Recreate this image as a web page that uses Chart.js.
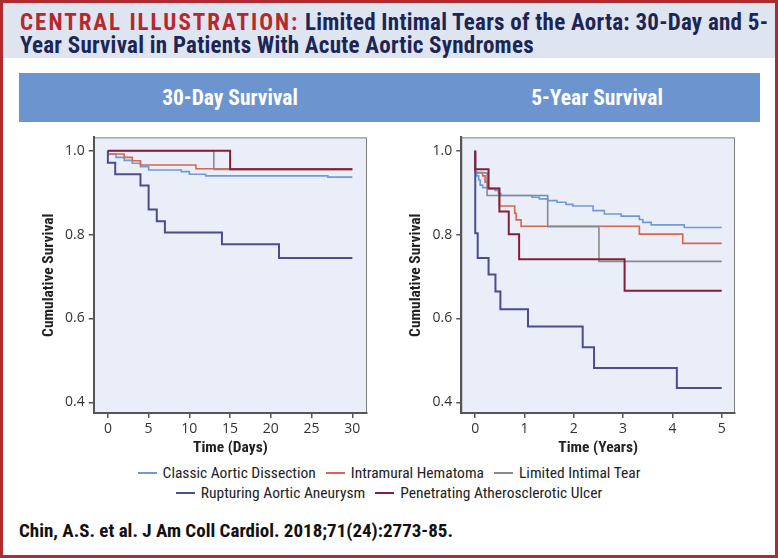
<!DOCTYPE html>
<html>
<head>
<meta charset="utf-8">
<script src="https://cdn.jsdelivr.net/npm/chart.js@4.4.1/dist/chart.umd.min.js"></script>
<style>
  body { margin: 0; background: #fff; }
  #frame { position: relative; width: 778px; height: 558px; box-sizing: border-box; border: 3px solid #b02a30; overflow: hidden;
           font-family: 'Liberation Sans Narrow', 'Roboto Condensed', 'DejaVu Sans Condensed', sans-serif; }
  #head { position: absolute; left: 0; top: 0; width: 772px; height: 55px; background: #dfe4f1; }
  #head div { position: absolute; left: 17px; font-size: 23px; font-weight: bold; color: #1b2654; white-space: nowrap; letter-spacing: 0.25px; }
  #head .red { color: #b5282e; letter-spacing: 2px; }
  #banner { position: absolute; left: 16px; top: 70px; width: 741px; height: 49px; background: #6c94cf; }
  #banner div { position: absolute; top: 12px; color: #fff; font-weight: bold; font-size: 21.5px; width: 300px; text-align: center; }
  canvas { position: absolute; }
  #legend { position: absolute; left: 0; width: 772px; top: 460px; font-size: 15.5px; color: #222; }
  #legend .row { display: flex; justify-content: center; height: 20px; line-height: 20px; }
  #legend .item { display: flex; align-items: center; margin: 0 5px; }
  #legend .sw { width: 19px; height: 2px; margin-right: 6px; }
  #foot { position: absolute; left: 16px; top: 516px; font-size: 19px; font-weight: bold; color: #111; }
</style>
</head>
<body>
<div id="frame">
  <div id="head">
    <div style="top:6px"><span class="red">CENTRAL ILLUSTRATION:</span> Limited Intimal Tears of the Aorta: 30-Day and 5-</div>
    <div style="top:29px">Year Survival in Patients With Acute Aortic Syndromes</div>
  </div>
  <div id="banner">
    <div style="left:61px">30-Day Survival</div>
    <div style="left:428px">5-Year Survival</div>
  </div>
  <canvas id="c30" width="360" height="335" style="left:17px;top:122px"></canvas>
  <canvas id="c5y" width="360" height="335" style="left:385px;top:122px"></canvas>
  <div id="legend"></div>
  <div id="foot">Chin, A.S. et al. J Am Coll Cardiol. 2018;71(24):2773-85.</div>
</div>
<script>
// series names and colours
var categories = ['Classic Aortic Dissection', 'Intramural Hematoma', 'Limited Intimal Tear',
                  'Rupturing Aortic Aneurysm', 'Penetrating Atherosclerotic Ulcer'];
var colors = ['#6f9ad6', '#d8664e', '#8a8a8a', '#4b4d8e', '#8a1d36'];

// Kaplan-Meier steps, [time, survival after the event]
// 30 days
var cad30 = [[0, 1], [0, 0.992], [1, 0.984], [2, 0.977], [3, 0.970], [4, 0.962], [5, 0.954], [9, 0.950], [10, 0.944], [12, 0.940], [27, 0.937], [30, 0.937]];
var imh30 = [[0, 1], [0, 0.992], [2, 0.984], [3, 0.976], [4, 0.966], [10.8, 0.957], [30, 0.957]];
var lit30 = [[0, 1], [13, 0.955], [30, 0.955]];
var raa30 = [[0, 1], [0, 0.971], [0.9, 0.944], [4, 0.917], [5, 0.860], [6, 0.832], [7, 0.805], [14, 0.777], [21, 0.744], [30, 0.744]];
var pau30 = [[0, 1], [15, 0.956], [30, 0.956]];

// 5 years
var cad5 = [[0, 1], [0, 0.950], [0.03, 0.940], [0.07, 0.930], [0.1, 0.918], [0.15, 0.912], [0.25, 0.910], [0.4, 0.905], [0.47, 0.898], [0.52, 0.893],
            [1.15, 0.889], [1.3, 0.885], [1.47, 0.881], [1.66, 0.877], [1.84, 0.872], [1.98, 0.868], [2.39, 0.857], [2.62, 0.849],
            [2.96, 0.844], [3.33, 0.836], [3.4, 0.829], [3.57, 0.823], [4.24, 0.817], [5, 0.817]];
var imh5 = [[0, 1], [0, 0.948], [0.15, 0.940], [0.2, 0.925], [0.25, 0.910], [0.49, 0.868], [0.80, 0.851], [0.83, 0.835], [0.93, 0.820], [3.33, 0.801], [4.21, 0.779], [5, 0.779]];
var lit5 = [[0, 1], [0, 0.947], [0.24, 0.893], [1.47, 0.819], [2.51, 0.736], [5, 0.736]];
var raa5 = [[0, 1], [0, 0.803], [0.05, 0.744], [0.27, 0.705], [0.41, 0.664], [0.51, 0.622], [1.07, 0.581], [2.18, 0.531], [2.41, 0.482], [4.09, 0.434], [5, 0.434]];
var pau5 = [[0, 1], [0, 0.956], [0.27, 0.910], [0.49, 0.855], [0.68, 0.801], [0.89, 0.741], [3.03, 0.666], [5, 0.666]];

// tick labels
var survTicks = [0.4, 0.6, 0.8, 1.0];
var dayTicks = [0, 5, 10, 15, 20, 25, 30];
var yearTicks = [0, 1, 2, 3, 4, 5];

var plotBg = {
    id: 'plotBg',
    beforeDraw: function (chart) {
        var a = chart.chartArea, c = chart.ctx;
        c.save();
        c.fillStyle = '#e9eef8';
        c.fillRect(a.left, a.top, a.right - a.left, a.bottom - a.top);
        c.strokeStyle = '#7d7d7d';
        c.lineWidth = 1;
        c.strokeRect(a.left + 0.5, a.top + 0.5, a.right - a.left - 1, a.bottom - a.top - 1);
        c.restore();
    }
};

function fixTicks(list) {
    return function (scale) {
        scale.ticks = list.map(function (v) { return { value: v }; });
    };
}

var titleFont = { family: "'Liberation Sans Narrow', 'Roboto Condensed', 'DejaVu Sans Condensed'", size: 15.5, weight: 'bold' };
var tickFont = { family: 'Open Sans', size: 14 };

function makeChart(id, series, xmin, xmax, xticks, xtitle, yAxisW, yTitlePad) {
    var sets = [];
    // dark series first so they sit on top
    var order = [4, 3, 2, 1, 0];
    for (var k in order) {
        var i = order[k];
        sets.push({
            label: categories[i],
            data: series[i].map(function (p) { return { x: p[0], y: p[1] }; }),
            borderColor: colors[i],
            borderWidth: (i == 3 || i == 4) ? 2 : 1.6,
            stepped: true,
            pointRadius: 0,
            fill: false
        });
    }
    return new Chart(document.getElementById(id), {
        type: 'line',
        data: { datasets: sets },
        options: {
            responsive: false,
            animation: false,
            devicePixelRatio: 1,
            layout: { padding: { left: 0, top: 12, right: 13, bottom: 0 } },
            plugins: { legend: { display: false }, tooltip: { enabled: false } },
            scales: {
                x: {
                    type: 'linear', min: xmin, max: xmax,
                    afterBuildTicks: fixTicks(xticks),
                    afterFit: function (s) { s.height = 47; },
                    grid: { drawOnChartArea: false, tickLength: 5, color: '#555', lineWidth: 1.5 },
                    border: { display: true, color: '#555', width: 2 },
                    ticks: { color: '#333', padding: 3, font: tickFont },
                    title: { display: true, text: xtitle, color: '#222', padding: { top: 0, bottom: 3 }, font: titleFont }
                },
                y: {
                    min: 0.3745, max: 1.0317,
                    afterBuildTicks: fixTicks(survTicks),
                    afterFit: function (s) { s.width = yAxisW; },
                    grid: { drawOnChartArea: false, tickLength: 5, color: '#555', lineWidth: 1.5 },
                    border: { display: true, color: '#555', width: 2 },
                    ticks: { color: '#333', padding: 4, font: tickFont,
                             callback: function (v) { return v.toFixed(1); } },
                    title: { display: true, text: 'Cumulative Survival', color: '#222', padding: { top: yTitlePad, bottom: 0 }, font: titleFont }
                }
            }
        },
        plugins: [plotBg]
    });
}

makeChart('c30', [cad30, imh30, lit30, raa30, pau30], -1.74, 31.8, dayTicks, 'Time (Days)', 73.7, 20);
makeChart('c5y', [cad5, imh5, lit5, raa5, pau5], -0.283, 5.27, yearTicks, 'Time (Years)', 73.3, 19);

// legend rows, same look as the reference
var rows = [[0, 1, 2], [3, 4]];
var lg = document.getElementById('legend');
rows.forEach(function (r) {
    var row = document.createElement('div');
    row.className = 'row';
    r.forEach(function (i) {
        var it = document.createElement('div');
        it.className = 'item';
        it.innerHTML = '<span class="sw" style="background:' + colors[i] + '"></span>' + categories[i];
        row.appendChild(it);
    });
    lg.appendChild(row);
});
</script>
</body>
</html>
